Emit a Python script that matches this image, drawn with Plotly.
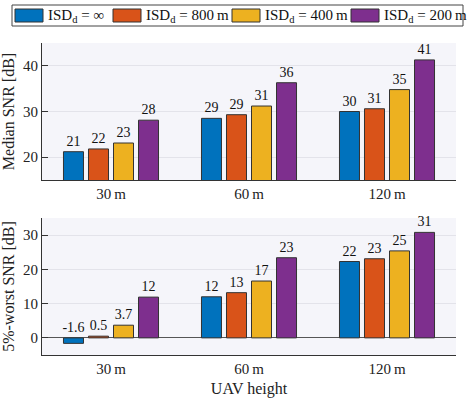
import plotly.graph_objects as go

heights = ["30\u2009m", "60\u2009m", "120\u2009m"]
series_names = ["ISD<sub>d</sub> = \u221e", "ISD<sub>d</sub> = 800\u2009m",
                "ISD<sub>d</sub> = 400\u2009m", "ISD<sub>d</sub> = 200\u2009m"]
colors = ["#0072BD", "#D95319", "#EDB120", "#7E2F8E"]

median_inf = [21.2, 28.5, 30.0]
median_800 = [21.8, 29.3, 30.6]
median_400 = [23.1, 31.2, 34.8]
median_200 = [28.1, 36.3, 41.3]
median_labels = [["21", "29", "30"], ["22", "29", "31"], ["23", "31", "35"], ["28", "36", "41"]]

worst_inf = [-1.6, 12.0, 22.3]
worst_800 = [0.5, 13.2, 23.1]
worst_400 = [3.7, 16.6, 25.4]
worst_200 = [11.9, 23.4, 30.8]
worst_labels = [["-1.6", "12", "22"], ["0.5", "13", "23"], ["3.7", "17", "25"], ["12", "23", "31"]]

median = [median_inf, median_800, median_400, median_200]
worst = [worst_inf, worst_800, worst_400, worst_200]

FONT = "Liberation Serif"
fig = go.Figure()

for i in range(4):
    for vals, labels, xa, ya in [(median[i], median_labels[i], "x", "y"),
                                 (worst[i], worst_labels[i], "x2", "y2")]:
        fig.add_trace(go.Bar(x=heights, y=vals, marker=dict(color=colors[i], line=dict(color="#333333", width=1)),
                             offsetgroup=str(i), xaxis=xa, yaxis=ya, showlegend=False, hoverinfo="skip"))
        fig.add_trace(go.Bar(x=heights, y=[max(v, 0) for v in vals], text=labels,
                             textposition="outside", cliponaxis=False, constraintext="none",
                             textfont=dict(family=FONT, size=14, color="#111111"),
                             marker=dict(color="rgba(0,0,0,0)", line=dict(width=0)),
                             offsetgroup=str(i), xaxis=xa, yaxis=ya, showlegend=False, hoverinfo="skip"))

W, H = 474, 399
# custom legend
shapes = [dict(type="rect", xref="paper", yref="paper", x0=12/W, x1=463/W, y0=1-26/H, y1=1-5/H,
               line=dict(color="#444444", width=1), fillcolor="white", layer="below")]
annotations = []
sw_x = [15, 113, 232, 351]
for i in range(4):
    shapes.append(dict(type="rect", xref="paper", yref="paper", x0=sw_x[i]/W, x1=(sw_x[i]+28)/W,
                       y0=1-22/H, y1=1-9/H, fillcolor=colors[i], line=dict(color="#333333", width=1)))
    annotations.append(dict(xref="paper", yref="paper", x=(sw_x[i]+31)/W, y=1-15.5/H, text=series_names[i],
                            showarrow=False, xanchor="left", yanchor="middle",
                            font=dict(family=FONT, size=15, color="#111111")))

xdom = [42/W, 456/W]
axis_common = dict(showline=True, linecolor="#333333", linewidth=1.2, mirror=False,
                   tickfont=dict(family=FONT, size=15, color="#222222"))
fig.update_layout(
    width=W, height=H, margin=dict(l=0, r=0, t=0, b=0),
    paper_bgcolor="white", plot_bgcolor="#F5F5FA",
    barmode="group", bargap=0.275, bargroupgap=0.2,
    shapes=shapes, annotations=annotations, showlegend=False,
    xaxis=dict(domain=xdom, anchor="y", ticks="", range=[-0.5, 2.5], **axis_common),
    yaxis=dict(domain=[1-180/H, 1-43/H], anchor="x", range=[15, 45], tickvals=[20, 30, 40],
               ticks="inside", ticklen=6, tickcolor="#333333", showgrid=True, gridcolor="#E3E3EA",
               zeroline=False,
               title=dict(text="Median SNR [dB]", font=dict(family=FONT, size=16, color="#222222"), standoff=8),
               **axis_common),
    xaxis2=dict(domain=xdom, anchor="y2", ticks="", range=[-0.5, 2.5],
                title=dict(text="UAV height", font=dict(family=FONT, size=16, color="#222222"), standoff=6),
                **axis_common),
    yaxis2=dict(domain=[1-355/H, 1-218/H], anchor="x2", range=[-5, 35], tickvals=[0, 10, 20, 30],
                ticks="inside", ticklen=6, tickcolor="#333333", showgrid=True, gridcolor="#E3E3EA",
                zeroline=True, zerolinecolor="#555555", zerolinewidth=1,
                title=dict(text="5%-worst SNR [dB]", font=dict(family=FONT, size=16, color="#222222"), standoff=8),
                **axis_common),
)

fig.write_html("out.html", config={"displayModeBar": False},
               post_script="document.body.style.margin='0';document.body.style.padding='0';")
